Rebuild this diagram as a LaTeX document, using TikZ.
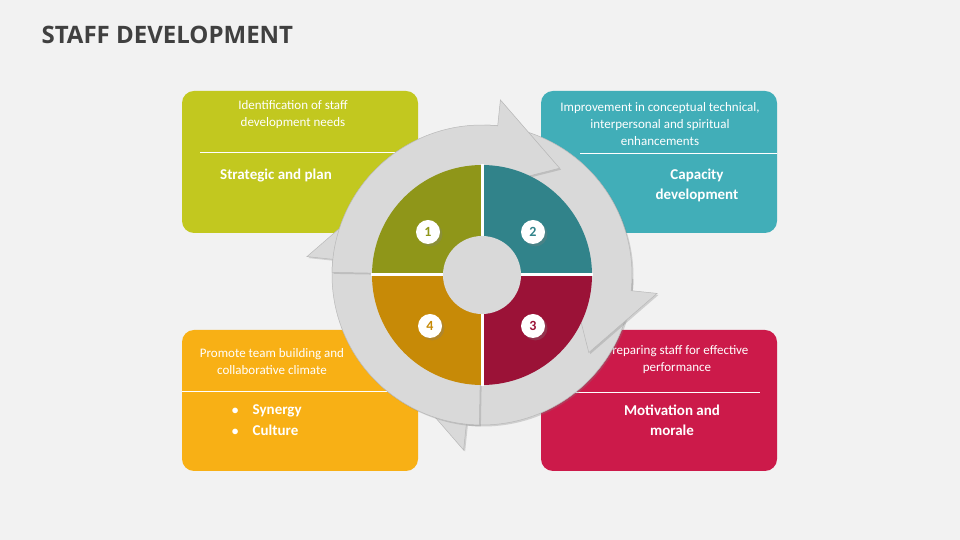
\documentclass[tikz,border=0pt]{standalone}
\usepackage{fontspec}
\setmainfont{Carlito}
\newfontfamily\titlefont{Open Sans}
\usetikzlibrary{shadows}
\definecolor{bg}{HTML}{F2F2F2}
\definecolor{cA}{HTML}{C2C81F}
\definecolor{cB}{HTML}{41AEB8}
\definecolor{cC}{HTML}{F8B015}
\definecolor{cD}{HTML}{CC1A4A}
\definecolor{pA}{HTML}{8F9619}
\definecolor{pB}{HTML}{31838A}
\definecolor{pC}{HTML}{C78A07}
\definecolor{pD}{HTML}{9B1237}
\definecolor{arr}{HTML}{D9D9D9}
\definecolor{ttl}{HTML}{404040}
\tikzset{
  card/.style={rounded corners=12pt,draw=none},
  txt/.style={text=white,align=center,font=\fontsize{13}{17}\selectfont},
  btxt/.style={text=white,align=center,font=\bfseries\fontsize{15}{20}\selectfont},
  sep/.style={white,line width=0.6pt},
  cyc/.style={fill=arr,draw=gray!55,line width=0.5pt,drop shadow={opacity=0.3,shadow xshift=1.5pt,shadow yshift=-1.5pt}},
  num/.style={circle,fill=white,minimum size=24pt,inner sep=0pt,font=\bfseries\fontsize{14}{14}\selectfont,drop shadow={opacity=0.3}}
}
\begin{document}
\begin{tikzpicture}[x=1pt,y=1pt]
\fill[bg] (0,0) rectangle (960,540);
\useasboundingbox (0,0) rectangle (960,540);
\node[anchor=west,text=ttl,font=\titlefont\bfseries\fontsize{24}{28}\selectfont] (title) at (38,505) {STAFF DEVELOPMENT};
% cards
\fill[cA,card] (182,307) rectangle (418,449);
\fill[cB,card] (541,307) rectangle (777,449);
\fill[cC,card] (182,69) rectangle (418,210);
\fill[cD,card] (541,69) rectangle (777,210);
\node[txt] (t1) at (293,425) {Identification of staff\\development needs};
\draw[sep] (200,388) -- (398,388);
\node[btxt] (b1) at (276,364) {Strategic and plan};
\node[txt] (t2) at (660,416) {Improvement in conceptual technical,\\interpersonal and spiritual\\enhancements};
\draw[sep] (580,387) -- (777,387);
\node[btxt] (b2) at (697,355) {Capacity\\development};
\node[txt] (t3) at (272,178) {Promote team building and\\collaborative climate};
\draw[sep] (182,149) -- (396,149);
\node[btxt,anchor=west] (b3a) at (228,129) {$\bullet$\hspace{14pt}Synergy};
\node[btxt,anchor=west] (b3b) at (228,110) {$\bullet$\hspace{14pt}Culture};
\node[txt] (t4) at (677,180) {Preparing staff for effective\\performance};
\draw[sep] (570,148) -- (760,148);
\node[btxt] (b4) at (672,120) {Motivation and\\morale};
% cycle arrows
\foreach \b in {-96,174,-6,84}{
  \begin{scope}[shift={(482,265)},rotate=\b]
  \path[cyc] (95:150) arc[start angle=95,end angle=0,radius=150] -- (0:176) -- (-30:132) -- (0:90) -- (0:108) arc[start angle=0,end angle=95,radius=108] -- cycle;
  \end{scope}
}
% pie
\begin{scope}[shift={(482,265)}]
\fill[pA] (0,0) -- (90:110) arc[start angle=90,end angle=180,radius=110] -- cycle;
\fill[pB] (0,0) -- (0:110) arc[start angle=0,end angle=90,radius=110] -- cycle;
\fill[pD] (0,0) -- (270:110) arc[start angle=270,end angle=360,radius=110] -- cycle;
\fill[pC] (0,0) -- (180:110) arc[start angle=180,end angle=270,radius=110] -- cycle;
\draw[white,line width=3pt] (-111,0) -- (111,0) (0,-111) -- (0,111);
\fill[arr] (0,0) circle[radius=39];
\end{scope}
\node[num,text=pA] (n1) at (428,308) {1};
\node[num,text=pB] (n2) at (533,308) {2};
\node[num,text=pD] (n3) at (533,214) {3};
\node[num,text=pC] (n4) at (430,214) {4};
\end{tikzpicture}
\end{document}
